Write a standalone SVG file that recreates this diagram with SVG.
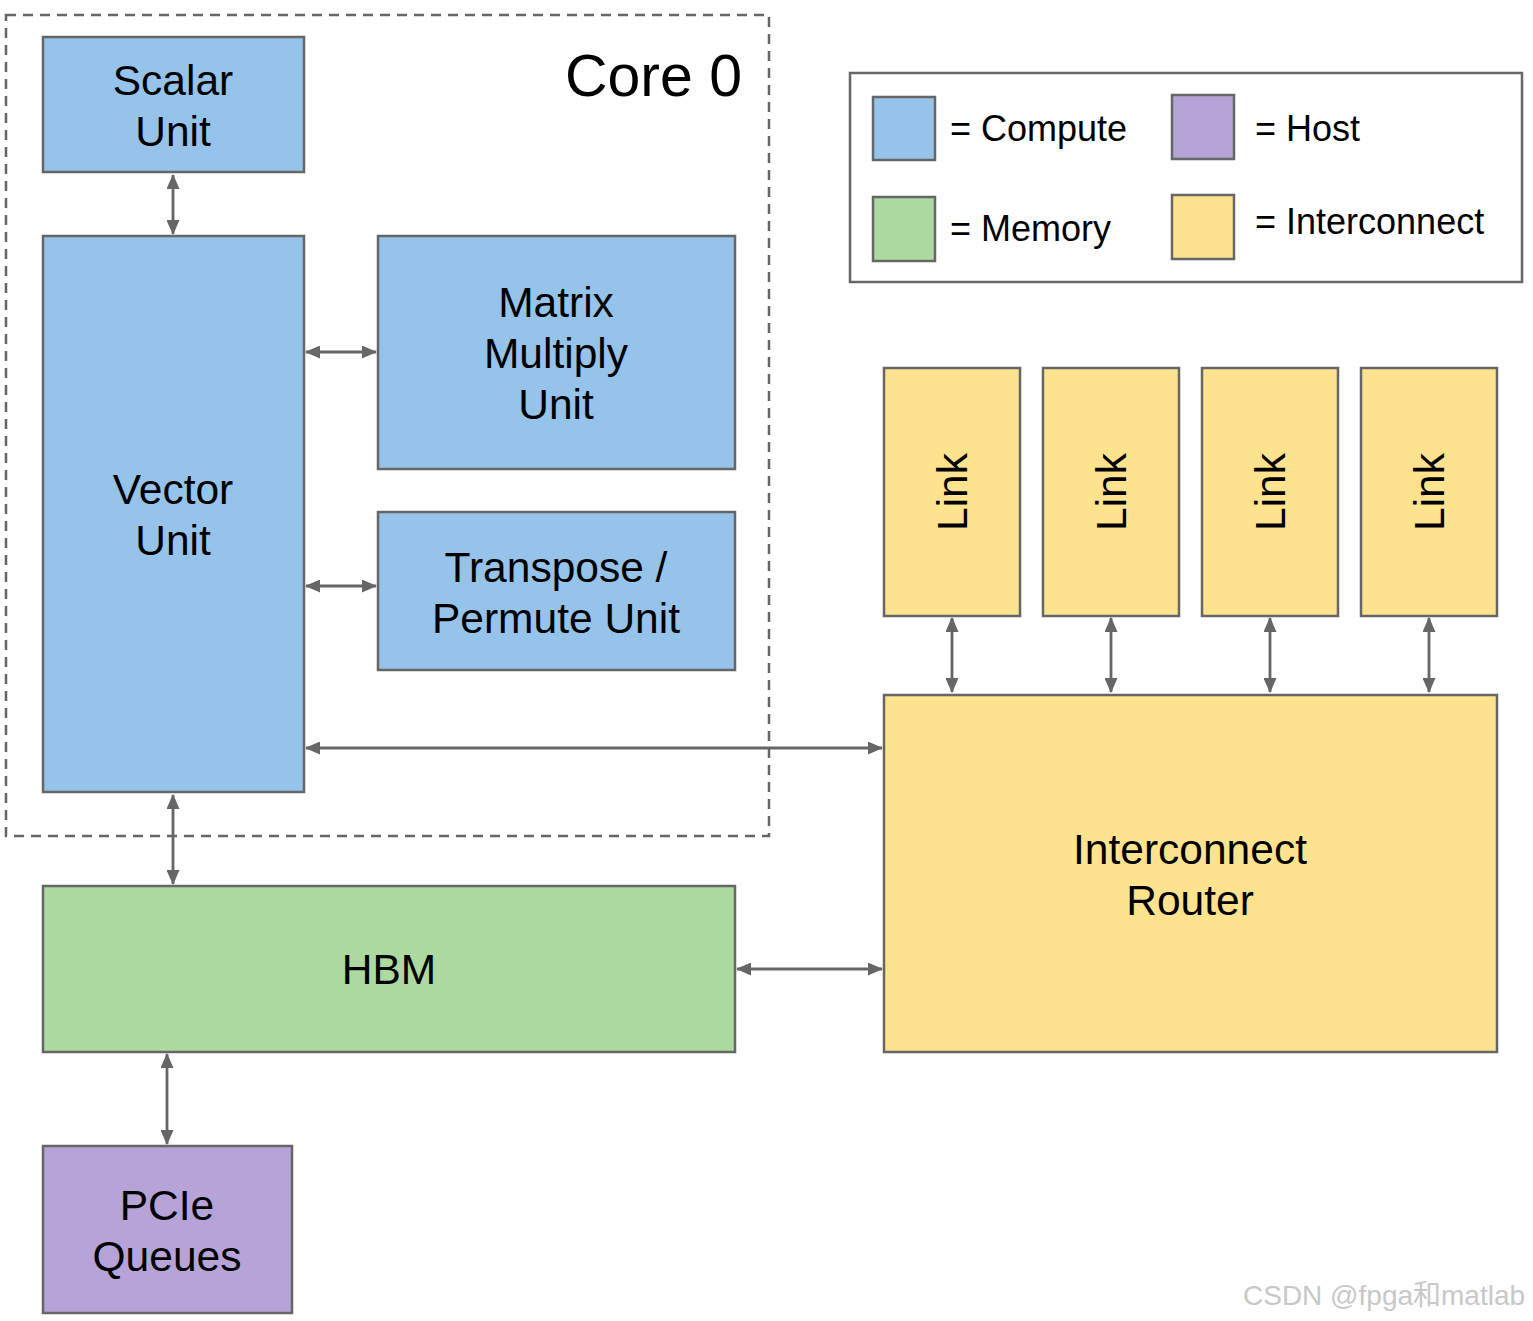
<svg xmlns="http://www.w3.org/2000/svg" width="1533" height="1321" viewBox="0 0 1533 1321">
<style>
.n{stroke:#666;stroke-width:2.5}
.c{fill:#95c3ea}.m{fill:#acd9a0}.h{fill:#b6a3d8}.i{fill:#fee38f}
text{font-family:"Liberation Sans",Arial,sans-serif;fill:#000}
.t{font-size:42.5px;text-anchor:middle}
.l{font-size:36px}
.e{stroke:#666;stroke-width:2.8;fill:none;marker-start:url(#a);marker-end:url(#a)}
</style>
<defs>
<marker id="a" viewBox="0 0 15 13" refX="14" refY="6.5" markerWidth="15" markerHeight="13" markerUnits="userSpaceOnUse" orient="auto-start-reverse">
<path d="M0,0 L15,6.5 L0,13 Z" fill="#666"/>
</marker>
</defs>
<rect width="1533" height="1321" fill="#fff"/>
<g id="core0">
<rect x="6" y="15" width="763" height="821" fill="none" stroke="#666" stroke-width="2.5" stroke-dasharray="10,7"/>
<text x="742" y="96" font-size="59" text-anchor="end">Core 0</text>
</g>
<g id="legend">
<rect x="850" y="73" width="672" height="209" fill="#fff" class="n"/>
<rect x="873" y="97" width="62" height="63" class="n c"/>
<rect x="1172" y="95" width="62" height="64" class="n h"/>
<rect x="873" y="197" width="62" height="64" class="n m"/>
<rect x="1172" y="195" width="62" height="64" class="n i"/>
<text x="950" y="141" class="l">= Compute</text>
<text x="1255" y="141" class="l">= Host</text>
<text x="950" y="241" class="l">= Memory</text>
<text x="1255" y="234" class="l">= Interconnect</text>
</g>
<g id="scalar"><rect x="43" y="37" width="261" height="135" class="n c"/><text class="t" x="173" y="95">Scalar</text><text class="t" x="173" y="146">Unit</text></g>
<g id="vector"><rect x="43" y="236" width="261" height="556" class="n c"/><text class="t" x="173" y="504">Vector</text><text class="t" x="173" y="555">Unit</text></g>
<g id="matrix"><rect x="378" y="236" width="357" height="233" class="n c"/><text class="t" x="556" y="317">Matrix</text><text class="t" x="556" y="368">Multiply</text><text class="t" x="556" y="419">Unit</text></g>
<g id="transpose"><rect x="378" y="512" width="357" height="158" class="n c"/><text class="t" x="556" y="582">Transpose /</text><text class="t" x="556" y="633">Permute Unit</text></g>
<g id="hbm"><rect x="43" y="886" width="692" height="166" class="n m"/><text class="t" x="389" y="984">HBM</text></g>
<g id="pcie"><rect x="43" y="1146" width="249" height="167" class="n h"/><text class="t" x="167" y="1220">PCIe</text><text class="t" x="167" y="1271">Queues</text></g>
<g id="router"><rect x="884" y="695" width="613" height="357" class="n i"/><text class="t" x="1190" y="864">Interconnect</text><text class="t" x="1190" y="915">Router</text></g>
<g id="link1"><rect x="884" y="368" width="136" height="248" class="n i"/><text class="t" transform="translate(967,492) rotate(-90)">Link</text></g>
<g id="link2"><rect x="1043" y="368" width="136" height="248" class="n i"/><text class="t" transform="translate(1126,492) rotate(-90)">Link</text></g>
<g id="link3"><rect x="1202" y="368" width="136" height="248" class="n i"/><text class="t" transform="translate(1285,492) rotate(-90)">Link</text></g>
<g id="link4"><rect x="1361" y="368" width="136" height="248" class="n i"/><text class="t" transform="translate(1444,492) rotate(-90)">Link</text></g>
<g id="connectors">
<line class="e" x1="173" y1="175" x2="173" y2="234"/>
<line class="e" x1="306" y1="352" x2="376" y2="352"/>
<line class="e" x1="306" y1="586" x2="376" y2="586"/>
<line class="e" x1="306" y1="748" x2="882" y2="748"/>
<line class="e" x1="173" y1="795" x2="173" y2="884"/>
<line class="e" x1="167" y1="1054" x2="167" y2="1144"/>
<line class="e" x1="737" y1="969" x2="882" y2="969"/>
<line class="e" x1="952" y1="618" x2="952" y2="692"/>
<line class="e" x1="1111" y1="618" x2="1111" y2="692"/>
<line class="e" x1="1270" y1="618" x2="1270" y2="692"/>
<line class="e" x1="1429" y1="618" x2="1429" y2="692"/>
</g>
<text x="1243" y="1305" font-size="28" style="fill:#c8c8c8;font-family:'Liberation Sans','Noto Sans CJK SC',sans-serif">CSDN @fpga和matlab</text>
</svg>
